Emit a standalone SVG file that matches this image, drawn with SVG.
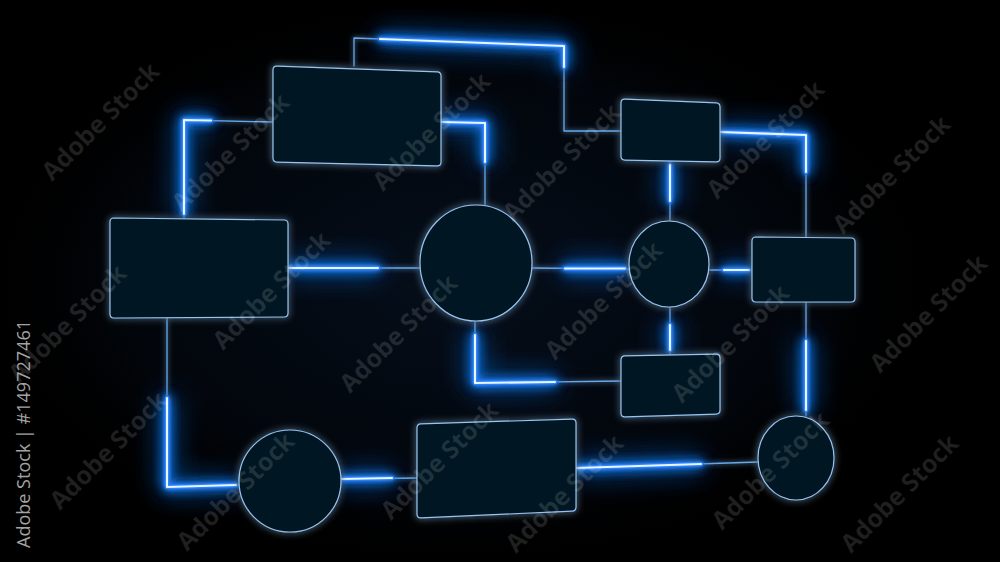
<svg xmlns="http://www.w3.org/2000/svg" width="1000" height="562" viewBox="0 0 1000 562">
<defs>
<style>
.thin{fill:none;stroke:#6aa8e6;stroke-width:1.3;stroke-linecap:round;stroke-linejoin:round}
.glowline{fill:none;stroke:#2a82ff;stroke-width:4.5;stroke-linecap:round;stroke-linejoin:round}
.core{fill:none;stroke:#e8f7ff;stroke-width:2.1;stroke-linecap:round;stroke-linejoin:round}
.nd{fill:#051222;stroke:#94c4ef;stroke-width:1.2}
.wm{font-family:"Open Sans","Liberation Sans",sans-serif;font-weight:700;font-size:25px;fill:#ffffff;fill-opacity:0.12}
.id{font-family:"Open Sans","Liberation Sans",sans-serif;font-size:19px;fill:#a3a3a3}
</style>
<radialGradient id="haze" cx="0.48" cy="0.5" r="0.5">
<stop offset="0" stop-color="#0a1d36" stop-opacity="0.5"/>
<stop offset="0.7" stop-color="#071427" stop-opacity="0.3"/>
<stop offset="1" stop-color="#000" stop-opacity="0"/>
</radialGradient>
<filter id="neon" filterUnits="userSpaceOnUse" x="0" y="0" width="1000" height="562">
<feGaussianBlur in="SourceGraphic" stdDeviation="14" result="b1"/>
<feGaussianBlur in="SourceGraphic" stdDeviation="6" result="b2"/>
<feGaussianBlur in="SourceGraphic" stdDeviation="2" result="b3"/>
<feMerge><feMergeNode in="b1"/><feMergeNode in="b1"/><feMergeNode in="b2"/><feMergeNode in="b2"/><feMergeNode in="b3"/><feMergeNode in="SourceGraphic"/></feMerge>
</filter>
<filter id="soft" filterUnits="userSpaceOnUse" x="0" y="0" width="1000" height="562">
<feGaussianBlur in="SourceGraphic" stdDeviation="2.5" result="b"/>
<feMerge><feMergeNode in="b"/><feMergeNode in="SourceGraphic"/></feMerge>
</filter>
<filter id="corefx" filterUnits="userSpaceOnUse" x="0" y="0" width="1000" height="562">
<feGaussianBlur in="SourceGraphic" stdDeviation="0.6"/>
</filter>
<filter id="edge" filterUnits="userSpaceOnUse" x="0" y="0" width="1000" height="562">
<feGaussianBlur in="SourceGraphic" stdDeviation="3.5" result="b"/>
<feMerge><feMergeNode in="b"/><feMergeNode in="SourceGraphic"/></feMerge>
</filter>
</defs>

<rect width="1000" height="562" fill="#000"/>
<ellipse cx="480" cy="280" rx="480" ry="290" fill="url(#haze)"/>

<g id="connectors">
<g filter="url(#soft)">
<path class="thin" d="M184,218 V120 L273,122"/>
<path class="thin" d="M441,122 L485,123 V207"/>
<path class="thin" d="M354,66 V38 L564,46 V131 L621,131"/>
<path class="thin" d="M720,132 L806,135 V237"/>
<path class="thin" d="M670,161 V221"/>
<path class="thin" d="M288,268 H420"/>
<path class="thin" d="M532,268 L629,269"/>
<path class="thin" d="M709,270 H752"/>
<path class="thin" d="M670,307 V355"/>
<path class="thin" d="M475,321 V383 L621,381"/>
<path class="thin" d="M806,302 V416"/>
<path class="thin" d="M167,318 V487 L239,485"/>
<path class="thin" d="M341,479 L417,478"/>
<path class="thin" d="M576,468 L758,462"/>
</g>
<g filter="url(#neon)">
<path class="glowline" d="M184,214 V120 L211,120.5"/>
<path class="glowline" d="M441,122 L485,123 V162"/>
<path class="glowline" d="M380,39 L564,46 V67"/>
<path class="glowline" d="M720,132 L806,135 V172"/>
<path class="glowline" d="M670,165 V201"/>
<path class="glowline" d="M288,268 H378"/>
<path class="glowline" d="M565,268.5 H625"/>
<path class="glowline" d="M724,270 H749"/>
<path class="glowline" d="M670,325 V350"/>
<path class="glowline" d="M475,335 V383 L555,382"/>
<path class="glowline" d="M806,341 V410"/>
<path class="glowline" d="M167,398 V487 L236,485"/>
<path class="glowline" d="M341,479 L392,478"/>
<path class="glowline" d="M576,468 L701,464"/>
</g>
<g filter="url(#corefx)">
<path class="core" d="M184,214 V120 L211,120.5"/>
<path class="core" d="M441,122 L485,123 V162"/>
<path class="core" d="M380,39 L564,46 V67"/>
<path class="core" d="M720,132 L806,135 V172"/>
<path class="core" d="M670,165 V201"/>
<path class="core" d="M288,268 H378"/>
<path class="core" d="M565,268.5 H625"/>
<path class="core" d="M724,270 H749"/>
<path class="core" d="M670,325 V350"/>
<path class="core" d="M475,335 V383 L555,382"/>
<path class="core" d="M806,341 V410"/>
<path class="core" d="M167,398 V487 L236,485"/>
<path class="core" d="M341,479 L392,478"/>
<path class="core" d="M576,468 L701,464"/>
</g>
</g>

<g id="node-top-rect" filter="url(#edge)">
<path class="nd" d="M277,66.1 L437,71.9 Q441,72 441,76 L441,162 Q441,166 437,165.9 L277,162.1 Q273,162 273,158 L273,70 Q273,66 277,66.1 Z"/>
</g>
<g id="node-left-rect" filter="url(#edge)">
<path class="nd" d="M114,218 L284,220 Q288,220 288,224 L288,313 Q288,317 284,317 L114,318 Q110,318 110,314 L110,222 Q110,218 114,218 Z"/>
</g>
<g id="node-center-circle" filter="url(#edge)">
<ellipse class="nd" cx="476" cy="263" rx="56" ry="58"/>
</g>
<g id="node-upper-right-rect" filter="url(#edge)">
<path class="nd" d="M625,99.2 L716,102.8 Q720,103 720,107 L720,158 Q720,162 716,161.9 L625,160.1 Q621,160 621,156 L621,103 Q621,99 625,99.2 Z"/>
</g>
<g id="node-middle-circle" filter="url(#edge)">
<ellipse class="nd" cx="669" cy="264" rx="40" ry="43"/>
</g>
<g id="node-right-rect" filter="url(#edge)">
<path class="nd" d="M756,237 L851,238 Q855,238 855,242 L855,298 Q855,302 851,302 L756,302 Q752,302 752,298 L752,241 Q752,237 756,237 Z"/>
</g>
<g id="node-lower-middle-rect" filter="url(#edge)">
<path class="nd" d="M625,355.9 L716,354.1 Q720,354 720,358 L720,410 Q720,414 716,414.1 L625,416.9 Q621,417 621,413 L621,360 Q621,356 625,355.9 Z"/>
</g>
<g id="node-bottom-rect" filter="url(#edge)">
<path class="nd" d="M421,423.9 L572,419.1 Q576,419 576,423 L576,507 Q576,511 572,511.2 L421,517.8 Q417,518 417,514 L417,428 Q417,424 421,423.9 Z"/>
</g>
<g id="node-bottom-left-circle" filter="url(#edge)">
<ellipse class="nd" cx="290" cy="481" rx="51" ry="51"/>
</g>
<g id="node-bottom-right-circle" filter="url(#edge)">
<ellipse class="nd" cx="796" cy="458" rx="38" ry="42"/>
</g>

<g id="watermarks">
<text class="wm" transform="translate(52,182) rotate(-45)">Adobe Stock</text>
<text class="wm" transform="translate(182,213) rotate(-45)">Adobe Stock</text>
<text class="wm" transform="translate(383,192) rotate(-45)">Adobe Stock</text>
<text class="wm" transform="translate(513,223) rotate(-45)">Adobe Stock</text>
<text class="wm" transform="translate(717,200) rotate(-45)">Adobe Stock</text>
<text class="wm" transform="translate(843,235) rotate(-45)">Adobe Stock</text>
<text class="wm" transform="translate(19,384) rotate(-45)">Adobe Stock</text>
<text class="wm" transform="translate(223,351) rotate(-45)">Adobe Stock</text>
<text class="wm" transform="translate(350,394) rotate(-45)">Adobe Stock</text>
<text class="wm" transform="translate(555,361) rotate(-45)">Adobe Stock</text>
<text class="wm" transform="translate(682,404) rotate(-45)">Adobe Stock</text>
<text class="wm" transform="translate(880,374) rotate(-45)">Adobe Stock</text>
<text class="wm" transform="translate(60,511) rotate(-45)">Adobe Stock</text>
<text class="wm" transform="translate(187,552) rotate(-45)">Adobe Stock</text>
<text class="wm" transform="translate(391,521) rotate(-45)">Adobe Stock</text>
<text class="wm" transform="translate(516,554) rotate(-45)">Adobe Stock</text>
<text class="wm" transform="translate(722,531) rotate(-45)">Adobe Stock</text>
<text class="wm" transform="translate(851,554) rotate(-45)">Adobe Stock</text>
</g>

<text class="id" transform="translate(30,548) rotate(-90)" textLength="228" lengthAdjust="spacingAndGlyphs">Adobe Stock | #149727461</text>
</svg>
